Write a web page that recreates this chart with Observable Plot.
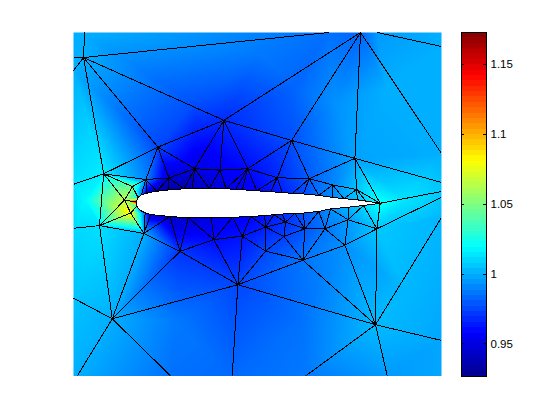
<!DOCTYPE html>
<html>
<head>
<meta charset="utf-8">
<script src="https://cdn.jsdelivr.net/npm/d3@7"></script>
<script src="https://cdn.jsdelivr.net/npm/@observablehq/plot@0.6"></script>
<style>
html,body{margin:0;padding:0;background:#fff;}
#chart{position:relative;width:560px;height:420px;overflow:hidden;}
#chart svg{position:absolute;top:0;background:transparent;max-width:none;}
</style>
</head>
<body>
<div id="chart"></div>
<script>
// Mesh nodes in chord units, with the field value at each node.
// The last group holds field samples.
const nodeX = [-.214,.915,.358,.089,-.132,-.015,-.047,-.022,-.149,.032,.179,.040,.134,.239,.342,.455,.576,.706,.801,.899,.892,.634,.317,.433,.528,.609,.603,.688,.770,.864,.982,.851,.680,.528,.415,.976,-.097,
  .001,.008,.022,.043,.061,.084,.130,.195,.228,.298,.367,.406,.433,.492,.548,.596,.637,.682,.745,.800,.847,.902,.936,.995,
  .927,.867,.793,.745,.682,.647,.596,.562,.524,.467,.393,.307,.213,.138,.059,.037,.014,.003,
  -.210,-.255,-.255,-.255,-.255,-.255,-.240,.141,.392,.691,1.024,1.245,1.245,1.245,1.245,1.245,1.245,1.245,.984,.785,-.255,1.245,1.245,-.255,
  -.141,-.206,.161,.671,.234,.642,.508,.814,1.018,1.099,1.099];
const nodeY = [.594,.696,.338,.229,.120,.068,.013,-.040,-.091,-.123,-.196,.097,.103,.141,.135,.141,.104,.100,.075,.056,.183,.256,-.148,-.134,-.097,-.077,-.135,-.104,-.104,-.067,-.104,-.171,-.232,-.195,-.332,-.495,-.471,
  .005,.024,.035,.041,.045,.049,.054,.059,.060,.060,.059,.057,.055,.051,.047,.044,.040,.038,.032,.024,.019,.014,.009,.000,
  -.009,-.016,-.023,-.033,-.040,-.041,-.044,-.047,-.050,-.054,-.057,-.060,-.059,-.054,-.046,-.039,-.027,-.011,
  .696,.594,.541,.077,-.102,-.387,-.704,-.704,-.704,-.704,-.704,-.559,-.058,.024,.048,.085,.203,.639,.696,.696,.696,.696,-.704,-.704,
  .011,.011,-.479,-.479,.407,.472,.611,.407,.472,.011,-.356];
const nodeV = [1.000,.982,.968,.975,1.015,1.045,1.065,1.085,1.012,1.00,.97,.99,.945,.95,.955,.96,.967,.98,.99,1.005,.997,.977,.96,.962,.965,.97,.973,.978,.986,.995,1.006,.993,.986,.975,.975,1.003,1.000,
  1.16,1.02,.985,.95,.94,.937,.935,.935,.94,.945,.95,.955,.955,.958,.962,.965,.97,.975,.985,.99,.998,1.005,1.01,1.022,
  1.01,1.002,.993,.985,.977,.973,.968,.965,.962,.958,.955,.95,.945,.94,.945,.98,.995,1.03,
  1.0,1.0,1.0,1.012,1.01,1.005,1.0,.985,.983,.987,.995,.998,1.002,1.006,1.006,1.005,1.0,1.0,.995,.985,1.0,1.0,.998,1.0,
  1.04,1.018,.987,.985,.977,.982,.987,.993,1.0,1.013,1.002];

// Closed outline of the airfoil hole, as node indices.
const airfoilLoop = [37,38,39,40,41,42,43,44,45,46,47,48,49,50,51,52,53,54,55,56,57,58,59,60,61,62,63,64,65,66,67,68,69,70,71,72,73,74,75,76,77,78,37];

// Mesh edges, as pairs of node indices.
const meshEdges = [
  [0,79],[0,80],[0,81],[0,98],[0,2],[0,3],[0,4],
  [1,2],[1,21],[1,20],[1,95],[97,96],
  [2,21],[2,3],[2,13],[2,14],[2,15],
  [3,4],[3,11],[3,12],[3,13],
  [4,82],[4,5],[4,6],[4,8],[4,11],
  [5,11],[5,6],[5,38],
  [6,37],[6,7],[6,8],
  [7,8],[7,9],[7,78],
  [8,83],[8,36],[8,9],
  [9,75],[9,76],[9,74],[9,10],[9,36],
  [10,74],[10,73],[10,22],[10,34],[10,36],
  [11,12],[11,39],[11,40],[11,42],
  [12,13],[12,42],[12,43],[12,44],
  [13,14],[13,44],[13,45],[13,46],
  [14,15],[14,46],[14,47],
  [15,21],[15,16],[15,47],[15,48],[15,49],[15,50],
  [16,21],[16,17],[16,50],[16,51],[16,52],
  [17,21],[17,20],[17,18],[17,53],[17,54],[17,55],
  [18,19],[18,55],[18,56],[18,57],
  [19,20],[19,57],[19,58],[19,59],[19,60],
  [20,21],[20,60],[20,94],
  [60,93],[60,30],
  [30,92],[30,35],[30,29],[30,31],[30,61],
  [29,28],[29,31],[29,61],[29,62],[29,63],
  [28,27],[28,63],[28,64],[28,31],[28,32],
  [27,66],[27,65],[27,64],[27,25],[27,26],[27,32],
  [25,68],[25,67],[25,66],[25,24],[25,26],
  [24,70],[24,69],[24,68],[24,26],[24,33],[24,23],
  [26,33],[26,32],
  [33,32],[33,23],[33,34],
  [32,34],[32,35],[32,31],
  [31,35],
  [23,22],[23,34],[23,71],[23,70],
  [22,34],[22,73],[22,72],[22,71],
  [34,36],[34,87],[34,35],
  [35,88],[35,89],[35,90],[35,91],
  [36,84],[36,85],[36,86]
];

const colorStops = [0.927,0.9578,1.0193,1.0808,1.1423,1.173];
const colorRange = ["#00008f","#0000ff","#00ffff","#ffff00","#ff0000","#800000"];
const colorTicks = [0.95,1,1.05,1.1,1.15];
const colorLevels = 64;

const jet = {type:"linear", domain:colorStops, range:colorRange, interpolate:"rgb"};
const ids = d3.range(nodeX.length);

const main = Plot.plot({
  width:560, height:420,
  marginLeft:73, marginRight:119, marginTop:32, marginBottom:44.5,
  x:{domain:[-.255,1.245], axis:null},
  y:{domain:[-.704,.696], axis:null},
  color:jet,
  marks:[
    Plot.raster(ids,{x:i=>nodeX[i], y:i=>nodeY[i], fill:i=>nodeV[i], interpolate:"barycentric"}),
    Plot.link(meshEdges,{
      x1:e=>nodeX[e[0]], y1:e=>nodeY[e[0]],
      x2:e=>nodeX[e[1]], y2:e=>nodeY[e[1]],
      stroke:"black", strokeWidth:1, shapeRendering:"crispEdges", clip:true
    }),
    Plot.line(airfoilLoop,{
      x:i=>nodeX[i], y:i=>nodeY[i],
      fill:"white", stroke:"black", strokeWidth:1, shapeRendering:"crispEdges"
    })
  ]
});

const [vMin,vMax] = [colorStops[0],colorStops[colorStops.length-1]];
const step = (vMax-vMin)/colorLevels;
const levels = d3.range(colorLevels).map(k=>vMin+k*step);

const bar = Plot.plot({
  width:99, height:420,
  marginLeft:1, marginRight:73, marginTop:32, marginBottom:44.5,
  x:{domain:[0,1], axis:null},
  y:{domain:[vMin,vMax], axis:null},
  color:jet,
  style:{fontFamily:"'Liberation Sans',Arial,sans-serif", fontSize:"11.5px", color:"black"},
  marks:[
    Plot.rect(levels,{x1:0,x2:1,y1:d=>d,y2:d=>d+step,fill:d=>d+step/2,shapeRendering:"crispEdges"}),
    Plot.ruleY(colorTicks,{x1:0,x2:.12,stroke:"black",shapeRendering:"crispEdges"}),
    Plot.ruleY(colorTicks,{x1:.88,x2:1,stroke:"black",shapeRendering:"crispEdges"}),
    Plot.frame({stroke:"black",shapeRendering:"crispEdges"}),
    Plot.axisY({anchor:"right",ticks:colorTicks,tickSize:0,tickPadding:4,tickFormat:d=>String(d),label:null,fontSize:11.5,fill:"black"})
  ]
});
bar.style.left = "460px";
main.style.left = "0px";

const host = document.getElementById("chart");
host.append(main, bar);
</script>
</body>
</html>
